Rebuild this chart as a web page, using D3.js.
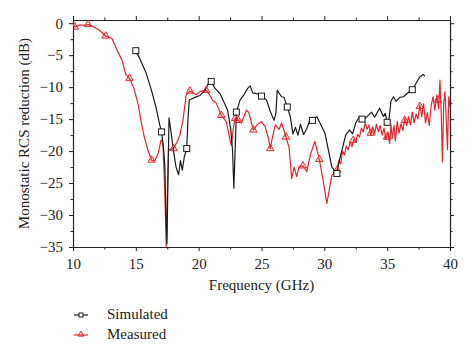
<!DOCTYPE html>
<html><head><meta charset="utf-8">
<script src="https://cdn.jsdelivr.net/npm/d3@7"></script>
<style>
body{margin:0;background:#fff;}
</style></head>
<body><svg id="c" width="474" height="357"></svg>
<script>
// ---- data (frequency GHz, RCS reduction dB) ----
const simFreq = [15.0,15.3,15.8,16.2,16.6,16.9,17.05,17.2,17.3,17.4,17.48,17.55,17.64,17.8,18.0,18.2,18.4,18.55,18.7,18.85,19.05,19.15,19.25,19.7,20.1,20.5,20.8,21.0,21.3,21.7,22.0,22.3,22.55,22.7,22.8,22.9,23.0,23.3,23.6,23.9,24.1,24.3,24.6,25.0,25.4,25.7,26.0,26.15,26.25,26.6,26.8,27.05,27.3,27.5,27.7,27.9,28.1,28.35,28.6,28.85,29.05,29.4,29.8,30.05,30.3,30.6,31.0,31.2,31.7,32.0,32.25,32.5,32.8,33.0,33.3,33.75,34.0,34.4,34.7,34.85,35.0,35.1,35.3,35.5,35.7,36.0,36.3,36.7,37.0,37.3,37.6,37.85,38.0];
const simVal  = [-4.3,-5.5,-7.7,-10.2,-13.1,-15.9,-17.0,-19.5,-22,-30,-34.5,-25,-14.8,-17,-20,-22.5,-23.7,-21.5,-23,-21,-19.6,-15,-12.0,-11.6,-11.3,-10.5,-9.3,-9.1,-10.2,-11.0,-12.3,-13.6,-16.5,-20,-25.8,-20,-13.9,-12.0,-11.2,-10.2,-9.8,-10.9,-11.0,-11.4,-12.0,-13.8,-15.2,-14,-10.5,-11.5,-11.6,-13.1,-14.7,-17.3,-16.3,-17.5,-15.8,-17.4,-16.5,-15.1,-15.2,-14.6,-16.2,-17.2,-19.6,-22.5,-23.5,-21.4,-17.5,-16.7,-17.3,-15.6,-14.6,-15.0,-14.8,-13.9,-14.7,-13.3,-14.6,-14.1,-15.5,-15.8,-12.2,-11.5,-12.2,-11.6,-11.5,-10.8,-10.4,-9.4,-8.4,-8.0,-8.3];

const measFreq = [10.0,10.15,10.5,11.0,11.2,11.6,12.1,12.6,13.1,13.5,13.9,14.2,14.5,14.85,15.2,15.4,15.65,15.95,16.25,16.5,16.8,17.0,17.15,17.3,17.42,17.52,17.6,18.0,18.35,18.5,18.75,19.0,19.3,19.8,20.1,20.6,20.9,21.1,21.4,21.8,22.2,22.5,22.6,22.75,22.9,23.15,23.4,23.8,24.0,24.35,24.7,25.0,25.3,25.55,25.7,25.85,26.1,26.4,26.6,26.95,27.2,27.4,27.6,27.8,28.0,28.3,28.6,28.9,29.25,29.6,29.9,30.2,30.6,31.0,31.15,31.3,31.45,31.6,31.75,31.9,32.05,32.2,32.35,32.5,32.65,32.8,32.95,33.1,33.25,33.4,33.55,33.7,33.85,34.0,34.15,34.3,34.45,34.6,34.75,34.9,35.05,35.2,35.3,35.4,35.55,35.65,35.8,35.95,36.1,36.25,36.4,36.55,36.7,36.85,37.0,37.15,37.3,37.45,37.6,37.75,37.9,38.05,38.2,38.35,38.5,38.65,38.8,38.95,39.1,39.2,39.3,39.4,39.5,39.6,39.7,39.8,39.9,40.0];
const measVal  = [-0.2,-0.6,-0.3,-0.3,-0.2,-0.5,-1.1,-2.0,-2.4,-4.2,-5.8,-8.0,-8.6,-10.2,-12.8,-15.2,-17.6,-19.8,-21.4,-21.6,-20.2,-18.3,-18.7,-26,-35,-26,-19.8,-19.6,-18.3,-17.5,-15.2,-11.3,-10.6,-11.2,-10.7,-10.5,-11.3,-12.0,-12.5,-14.4,-15.4,-18.3,-19.1,-16.5,-14.9,-15.2,-15.6,-13.6,-14.0,-16.7,-15.8,-15.4,-16.2,-18.0,-19.6,-18.0,-15.9,-16.6,-15.6,-17.8,-19.5,-24.3,-22.5,-24.0,-22.4,-22.3,-23.2,-20.5,-18.5,-21.3,-24.5,-28.2,-23.75,-23.0,-21.5,-22.0,-20.0,-20.6,-19.2,-19.8,-18.6,-19.3,-18.1,-18.6,-17.4,-17.8,-16.4,-17.0,-15.6,-16.6,-15.9,-17.6,-16.2,-17.3,-15.8,-17.0,-16.0,-17.5,-16.4,-18.2,-17.0,-18.8,-15.8,-18.0,-16.0,-18.4,-15.4,-17.2,-15.7,-16.8,-14.9,-16.0,-14.6,-15.9,-13.9,-15.6,-14.2,-15.0,-12.8,-14.6,-12.6,-15.6,-14.0,-16.0,-12.9,-11.5,-13.6,-11.2,-13.4,-8.9,-14.0,-21.7,-12.5,-10.7,-15.0,-19.8,-11.5,-13.1];

const simMarkF = [15.0,17.05,19.05,21.0,23.0,25.0,27.05,29.05,31.0,33.0,35.0,37.0];
const simMarkV = [-4.3,-17.0,-19.6,-9.1,-13.9,-11.4,-13.1,-15.2,-23.5,-15.0,-15.5,-10.4];
const measMarkF = [10.15,11.2,12.6,14.5,16.25,18.0,19.3,20.6,21.8,22.9,23.15,24.35,25.7,26.95,28.3,29.6,31.0,32.3,33.7,35.0,36.4,37.6,39.05];
const measMarkV = [-0.6,-0.2,-2.0,-8.6,-21.4,-19.6,-10.6,-10.5,-14.4,-14.9,-15.2,-16.7,-19.6,-17.8,-22.3,-21.3,-23.0,-18.3,-17.2,-17.8,-15.2,-13.0,-12.0];

const xTicks = [10,15,20,25,30,35,40];
const yTicks = [0,-5,-10,-15,-20,-25,-30,-35];
const seriesNames = ["Simulated","Measured"];

// ---- layout ----
const FONT = "'Liberation Serif', 'DejaVu Serif', serif";
const L=73, R=450, T=20, B=247;
const RED="#e3262b", BLK="#1a1a1a";
const svg=d3.select("#c").attr("font-family",FONT);
const x=d3.scaleLinear().domain([10,40]).range([L,R]);
const y=d3.scaleLinear().domain([-35,0.5]).range([B,T]);
const fmt=d=>d<0?"\u2212"+Math.abs(d):String(d);
const xMinor=d3.range(10,40.01,2.5).filter(v=>v%5!==0);
const yMinor=d3.range(-35,0.01,2.5).filter(v=>v%5!==0);

function styleAxis(g){g.attr("font-family",FONT);
  g.select(".domain").attr("stroke","#222").attr("stroke-width",1.1);
  g.selectAll(".tick line").attr("stroke","#222").attr("stroke-width",1);
  g.selectAll(".tick text").attr("font-family",FONT).style("font-family",FONT).style("font-size","15px").attr("fill","#222");}

// bottom
svg.append("g").attr("transform",`translate(0,${B})`)
  .call(d3.axisBottom(x).tickValues(xTicks).tickSize(4).tickSizeOuter(0).tickPadding(7).tickFormat(fmt)).call(styleAxis);
svg.append("g").attr("transform",`translate(0,${B})`)
  .call(d3.axisBottom(x).tickValues(xMinor).tickSize(2.5).tickSizeOuter(0).tickFormat("")).call(styleAxis);
// top
svg.append("g").attr("transform",`translate(0,${T})`)
  .call(d3.axisTop(x).tickValues(xTicks).tickSize(4).tickSizeOuter(0).tickFormat("")).call(styleAxis);
svg.append("g").attr("transform",`translate(0,${T})`)
  .call(d3.axisTop(x).tickValues(xMinor).tickSize(2.5).tickSizeOuter(0).tickFormat("")).call(styleAxis);
// left
svg.append("g").attr("transform",`translate(${L},0)`)
  .call(d3.axisLeft(y).tickValues(yTicks).tickSize(4).tickSizeOuter(0).tickPadding(6).tickFormat(fmt)).call(styleAxis);
svg.append("g").attr("transform",`translate(${L},0)`)
  .call(d3.axisLeft(y).tickValues(yMinor).tickSize(2.5).tickSizeOuter(0).tickFormat("")).call(styleAxis);
// right
svg.append("g").attr("transform",`translate(${R},0)`)
  .call(d3.axisRight(y).tickValues(yTicks).tickSize(4).tickSizeOuter(0).tickFormat("")).call(styleAxis);
svg.append("g").attr("transform",`translate(${R},0)`)
  .call(d3.axisRight(y).tickValues(yMinor).tickSize(2.5).tickSizeOuter(0).tickFormat("")).call(styleAxis);

// clip
svg.append("clipPath").attr("id","clip").append("rect").attr("x",L).attr("y",T).attr("width",R-L).attr("height",B-T+1);

const line=d3.line().x(d=>x(d[0])).y(d=>y(d[1]));
const measData=measFreq.map((f,i)=>[f,measVal[i]]);
const simData=simFreq.map((f,i)=>[f,simVal[i]]);
const plot=svg.append("g").attr("clip-path","url(#clip)");
plot.append("path").datum(measData).attr("d",line).attr("fill","none").attr("stroke",RED).attr("stroke-width",1.2).attr("stroke-linejoin","round");
plot.append("path").datum(simData).attr("d",line).attr("fill","none").attr("stroke",BLK).attr("stroke-width",1.2).attr("stroke-linejoin","round");

const tri=d3.symbol().type(d3.symbolTriangle).size(24);
plot.selectAll(".tm").data(measMarkF.map((f,i)=>[f,measMarkV[i]])).join("path")
  .attr("d",tri).attr("transform",d=>`translate(${x(d[0])},${y(d[1])})`)
  .attr("fill","rgba(227,38,43,0.12)").attr("stroke",RED).attr("stroke-width",1);
plot.selectAll(".sm").data(simMarkF.map((f,i)=>[f,simMarkV[i]])).join("rect")
  .attr("x",d=>x(d[0])-3).attr("y",d=>y(d[1])-3).attr("width",6).attr("height",6)
  .attr("fill","#fff").attr("stroke",BLK).attr("stroke-width",1);

// titles
const txt=(sel)=>sel.attr("font-family",FONT).style("font-family",FONT).style("font-size","15px").attr("fill","#222");
svg.append("text").attr("x",(L+R)/2).attr("y",290).attr("text-anchor","middle").call(txt).text("Frequency (GHz)");
svg.append("text").attr("transform",`translate(29,${(T+B)/2}) rotate(-90)`).attr("text-anchor","middle").call(txt).text("Monostatic RCS reduction (dB)");

// legend
const leg=svg.append("g");
[[seriesNames[0],BLK,"sq",315],[seriesNames[1],RED,"tri",335]].forEach(([name,col,m,ly])=>{
  leg.append("line").attr("x1",74).attr("x2",88).attr("y1",ly).attr("y2",ly).attr("stroke",col).attr("stroke-width",1.2);
  if(m==="sq") leg.append("rect").attr("x",79).attr("y",ly-2).attr("width",4).attr("height",4).attr("fill","#fff").attr("stroke",col);
  else leg.append("path").attr("d",d3.symbol().type(d3.symbolTriangle).size(14)).attr("transform",`translate(81,${ly-0.5})`).attr("fill","none").attr("stroke",col);
  leg.append("text").attr("x",107).attr("y",ly+4).call(txt).text(name);
});
</script></body></html>
